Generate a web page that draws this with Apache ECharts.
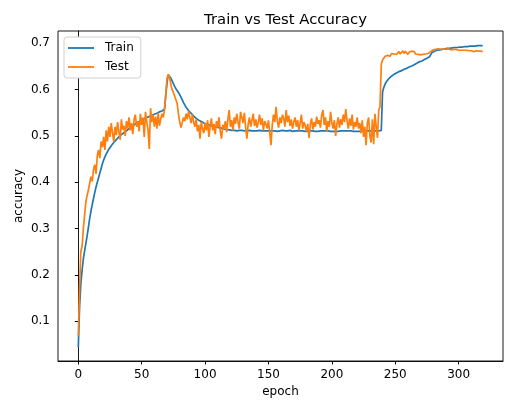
<!DOCTYPE html>
<html>
<head>
<meta charset="utf-8">
<script src="https://cdn.jsdelivr.net/npm/echarts@6/dist/echarts.min.js"></script>
<style>
html,body{margin:0;padding:0;background:#fff;}
#chart{width:512px;height:407px;}
</style>
</head>
<body>
<div id="chart"></div>
<script>
// Train accuracy per epoch (0..319)
const trainAcc = [
  0.044, 0.130, 0.180, 0.210, 0.235, 0.252, 0.268, 0.285, 0.303, 0.322,
  0.338, 0.352, 0.365, 0.378, 0.390, 0.400, 0.410, 0.420, 0.430, 0.440,
  0.448, 0.455, 0.461, 0.466, 0.471, 0.475, 0.479, 0.483, 0.486, 0.489,
  0.492, 0.495, 0.498, 0.500, 0.503, 0.505, 0.507, 0.509, 0.511, 0.514,
  0.516, 0.518, 0.520, 0.522, 0.524, 0.527, 0.528, 0.530, 0.531, 0.533,
  0.534, 0.536, 0.537, 0.538, 0.540, 0.541, 0.542, 0.543, 0.544, 0.546,
  0.547, 0.548, 0.549, 0.550, 0.552, 0.553, 0.554, 0.556, 0.558, 0.560,
  0.615, 0.632, 0.630, 0.625, 0.619, 0.613, 0.607, 0.602, 0.598, 0.594,
  0.590, 0.584, 0.578, 0.572, 0.567, 0.562, 0.558, 0.555, 0.552, 0.549,
  0.546, 0.543, 0.540, 0.538, 0.536, 0.534, 0.532, 0.531, 0.530, 0.528,
  0.527, 0.526, 0.525, 0.524, 0.523, 0.522, 0.521, 0.520, 0.520, 0.519,
  0.518, 0.518, 0.517, 0.517, 0.516, 0.515, 0.515, 0.514, 0.514, 0.513,
  0.513, 0.512, 0.513, 0.512, 0.512, 0.511, 0.512, 0.512, 0.511, 0.512,
  0.512, 0.511, 0.512, 0.511, 0.512, 0.512, 0.511, 0.511, 0.512, 0.511,
  0.512, 0.511, 0.511, 0.512, 0.511, 0.511, 0.512, 0.511, 0.511, 0.511,
  0.512, 0.511, 0.511, 0.511, 0.512, 0.511, 0.511, 0.510, 0.511, 0.511,
  0.511, 0.512, 0.511, 0.511, 0.510, 0.511, 0.511, 0.512, 0.511, 0.510,
  0.511, 0.511, 0.510, 0.511, 0.512, 0.511, 0.510, 0.511, 0.511, 0.510,
  0.511, 0.510, 0.511, 0.511, 0.510, 0.511, 0.511, 0.510, 0.511, 0.510,
  0.511, 0.511, 0.510, 0.511, 0.510, 0.511, 0.510, 0.511, 0.511, 0.510,
  0.511, 0.510, 0.511, 0.510, 0.511, 0.510, 0.511, 0.511, 0.510, 0.511,
  0.510, 0.511, 0.510, 0.511, 0.510, 0.511, 0.510, 0.510, 0.511, 0.510,
  0.511, 0.510, 0.511, 0.510, 0.510, 0.511, 0.510, 0.511, 0.510, 0.511,
  0.510, 0.511, 0.510, 0.511, 0.510, 0.511, 0.510, 0.511, 0.511, 0.512,
  0.595, 0.605, 0.612, 0.617, 0.621, 0.624, 0.627, 0.629, 0.631, 0.633,
  0.635, 0.636, 0.637, 0.639, 0.640, 0.641, 0.642, 0.644, 0.645, 0.646,
  0.648, 0.649, 0.650, 0.651, 0.653, 0.654, 0.655, 0.657, 0.658, 0.660,
  0.661, 0.662, 0.664, 0.665, 0.667, 0.668, 0.670, 0.671, 0.675, 0.680,
  0.682, 0.683, 0.684, 0.685, 0.685, 0.686, 0.686, 0.687, 0.687, 0.688,
  0.688, 0.689, 0.689, 0.689, 0.690, 0.690, 0.691, 0.691, 0.691, 0.691,
  0.692, 0.692, 0.692, 0.692, 0.693, 0.693, 0.693, 0.693, 0.693, 0.694,
  0.694, 0.694, 0.694, 0.694, 0.694, 0.695, 0.695, 0.695, 0.695, 0.695
];
// Test accuracy per epoch (0..319)
const testAcc = [
  0.068, 0.170, 0.250, 0.262, 0.300, 0.330, 0.358, 0.372, 0.384, 0.398,
  0.412, 0.402, 0.428, 0.438, 0.418, 0.458, 0.470, 0.452, 0.488, 0.476,
  0.498, 0.470, 0.512, 0.488, 0.520, 0.498, 0.528, 0.506, 0.488, 0.520,
  0.502, 0.530, 0.510, 0.492, 0.536, 0.514, 0.522, 0.500, 0.532, 0.516,
  0.540, 0.512, 0.528, 0.504, 0.536, 0.546, 0.520, 0.532, 0.510, 0.548,
  0.524, 0.540, 0.498, 0.552, 0.530, 0.514, 0.472, 0.560, 0.530, 0.546,
  0.520, 0.542, 0.516, 0.550, 0.522, 0.536, 0.548, 0.540, 0.556, 0.552,
  0.625, 0.633, 0.626, 0.612, 0.600, 0.594, 0.590, 0.578, 0.570, 0.548,
  0.530, 0.518, 0.522, 0.540, 0.532, 0.548, 0.536, 0.554, 0.540, 0.528,
  0.546, 0.530, 0.520, 0.536, 0.510, 0.524, 0.494, 0.530, 0.516, 0.506,
  0.528, 0.512, 0.534, 0.498, 0.520, 0.538, 0.512, 0.526, 0.504, 0.532,
  0.518, 0.540, 0.510, 0.494, 0.524, 0.516, 0.532, 0.508, 0.536, 0.556,
  0.520, 0.534, 0.512, 0.540, 0.526, 0.548, 0.530, 0.516, 0.552, 0.556,
  0.528, 0.550, 0.518, 0.494, 0.526, 0.540, 0.520, 0.534, 0.548, 0.522,
  0.536, 0.518, 0.530, 0.546, 0.524, 0.538, 0.512, 0.532, 0.526, 0.516,
  0.534, 0.508, 0.480, 0.524, 0.546, 0.530, 0.563, 0.532, 0.518, 0.540,
  0.528, 0.546, 0.538, 0.520, 0.556, 0.530, 0.544, 0.522, 0.536, 0.516,
  0.530, 0.540, 0.520, 0.534, 0.512, 0.528, 0.546, 0.516, 0.530, 0.522,
  0.510, 0.526, 0.496, 0.524, 0.538, 0.514, 0.530, 0.520, 0.542, 0.526,
  0.534, 0.518, 0.546, 0.556, 0.524, 0.540, 0.510, 0.532, 0.520, 0.552,
  0.528, 0.516, 0.534, 0.500, 0.526, 0.540, 0.518, 0.536, 0.524, 0.546,
  0.530, 0.558, 0.532, 0.516, 0.538, 0.522, 0.546, 0.514, 0.530, 0.520,
  0.540, 0.516, 0.528, 0.506, 0.534, 0.498, 0.520, 0.480, 0.528, 0.540,
  0.500, 0.486, 0.536, 0.482, 0.548, 0.520, 0.496, 0.556, 0.563, 0.655,
  0.664, 0.668, 0.672, 0.670, 0.674, 0.676, 0.672, 0.678, 0.674, 0.677,
  0.680, 0.676, 0.679, 0.682, 0.677, 0.680, 0.684, 0.678, 0.683, 0.680,
  0.676, 0.681, 0.678, 0.683, 0.679, 0.682, 0.677, 0.680, 0.676, 0.678,
  0.675, 0.678, 0.676, 0.679, 0.677, 0.676, 0.678, 0.677, 0.682, 0.685,
  0.686, 0.685, 0.687, 0.686, 0.688, 0.686, 0.687, 0.685, 0.688, 0.686,
  0.687, 0.686, 0.688, 0.687, 0.686, 0.688, 0.687, 0.686, 0.687, 0.686,
  0.685, 0.686, 0.685, 0.684, 0.685, 0.684, 0.685, 0.683, 0.684, 0.683,
  0.684, 0.683, 0.682, 0.683, 0.684, 0.682, 0.683, 0.682, 0.683, 0.682
];
const xTicks = [0, 50, 100, 150, 200, 250, 300];
const yTicks = [0.1, 0.2, 0.3, 0.4, 0.5, 0.6, 0.7];
const seriesNames = ['Train', 'Test'];

const toPairs = arr => arr.map((v, i) => [i, v]);
const font = 'DejaVu Sans';

const chart = echarts.init(document.getElementById('chart'), null, {renderer: 'canvas'});
chart.setOption({
  animation: false,
  backgroundColor: '#fff',
  title: {
    text: 'Train vs Test Accuracy',
    left: 280.5, top: 8, textAlign: 'center',
    textStyle: {fontFamily: font, fontSize: 14.8, fontWeight: 'normal', color: '#000'}
  },
  legend: {
    data: seriesNames,
    orient: 'vertical',
    left: 64, top: 37,
    backgroundColor: '#fff',
    borderColor: '#d0d0d0', borderWidth: 1, borderRadius: 3,
    padding: [4, 7, 4, 4],
    itemWidth: 26, itemHeight: 1.8, itemGap: 5,
    icon: 'rect',
    textStyle: {fontFamily: font, fontSize: 12, color: '#000', padding: [0, 0, 0, 6], lineHeight: 14}
  },
  grid: {left: 58, right: 9, top: 31, bottom: 46, show: true, borderColor: '#000', borderWidth: 0.9},
  xAxis: {
    type: 'value', min: -16, max: 335,
    name: 'epoch', nameLocation: 'middle', nameGap: 25,
    nameTextStyle: {fontFamily: font, fontSize: 12, color: '#000'},
    axisLine: {show: true, lineStyle: {color: '#000', width: 0.9}},
    axisTick: {show: true, length: 3.5, lineStyle: {color: '#000'}, customValues: xTicks},
    axisLabel: {fontFamily: font, fontSize: 12, color: '#000', margin: 8, customValues: xTicks},
    splitLine: {show: false}
  },
  yAxis: {
    type: 'value', min: 0.0143, max: 0.7266,
    name: 'accuracy', nameLocation: 'middle', nameGap: 33, nameRotate: 90,
    nameMoveOverlap: false,
    nameTextStyle: {fontFamily: font, fontSize: 12, color: '#000'},
    axisLine: {show: true, lineStyle: {color: '#000', width: 0.9}},
    axisTick: {show: true, length: 3.5, lineStyle: {color: '#000'}, customValues: yTicks},
    axisLabel: {fontFamily: font, fontSize: 12, color: '#000', margin: 8, customValues: yTicks,
      formatter: v => v.toFixed(1)},
    splitLine: {show: false}
  },
  series: [
    {name: seriesNames[0], type: 'line', data: toPairs(trainAcc), symbol: 'none',
      lineStyle: {color: '#1f77b4', width: 1.7}, itemStyle: {color: '#1f77b4'}},
    {name: seriesNames[1], type: 'line', data: toPairs(testAcc), symbol: 'none',
      lineStyle: {color: '#ff7f0e', width: 1.7}, itemStyle: {color: '#ff7f0e'}}
  ]
});
</script>
</body>
</html>
